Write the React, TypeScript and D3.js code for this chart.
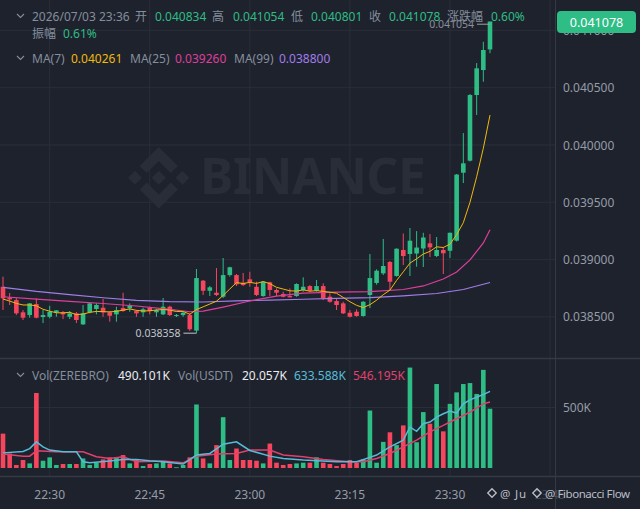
import React from "react";
import { scaleLinear, scaleTime, line as d3line } from "d3";

// 1-minute candles, 22:23 .. 23:36
const startTime = "2026-07-03T22:23:00";
const opens = [
  0.038763, 0.038667, 0.038647, 0.03854, 0.038516, 0.038612, 0.038499, 0.038501, 0.03854, 0.03854,
  0.038501, 0.038531, 0.038435, 0.03854, 0.038569, 0.03858, 0.03854, 0.038522, 0.038577, 0.038575,
  0.038551, 0.03854, 0.03858, 0.03854, 0.038522, 0.038589, 0.038508, 0.038516, 0.038516, 0.03838,
  0.038816, 0.038728, 0.038711, 0.038676, 0.038865, 0.038865, 0.038798, 0.038828, 0.038763, 0.038682,
  0.038802, 0.038735, 0.0387, 0.038682, 0.038682, 0.038735, 0.038769, 0.038728, 0.038769, 0.038676,
  0.038638, 0.038618, 0.038536, 0.038545, 0.038508, 0.038691, 0.038796, 0.03888, 0.038979, 0.038857,
  0.039084, 0.039049, 0.039053, 0.039097, 0.039142, 0.039031, 0.039084, 0.039077, 0.039165, 0.039758,
  0.039863, 0.040436, 0.040654, 0.040834,
];
const highs = [
  0.038851, 0.038708, 0.038665, 0.03856, 0.038621, 0.038662, 0.03856, 0.038597, 0.03856, 0.038551,
  0.038551, 0.038543, 0.038604, 0.038621, 0.038618, 0.038656, 0.038551, 0.038589, 0.038711, 0.038618,
  0.03856, 0.03858, 0.038589, 0.038569, 0.038665, 0.038597, 0.038525, 0.038543, 0.038531, 0.038918,
  0.038822, 0.038769, 0.038926, 0.039014, 0.038938, 0.038874, 0.038883, 0.038894, 0.038807, 0.038813,
  0.038807, 0.038749, 0.03872, 0.038749, 0.038793, 0.038845, 0.038778, 0.038822, 0.038793, 0.038706,
  0.038665, 0.038632, 0.03856, 0.038566, 0.038638, 0.039049, 0.038915, 0.03918, 0.038988, 0.039098,
  0.039228, 0.039276, 0.039249, 0.039234, 0.039223, 0.039197, 0.03911, 0.039236, 0.039747, 0.040104,
  0.040445, 0.040715, 0.040901, 0.041054,
];
const lows = [
  0.03856, 0.038604, 0.038516, 0.038473, 0.038493, 0.038487, 0.038446, 0.038487, 0.038501, 0.038481,
  0.038481, 0.038446, 0.038429, 0.038531, 0.038522, 0.038501, 0.038458, 0.038458, 0.038545, 0.038545,
  0.038501, 0.038501, 0.038522, 0.038501, 0.038516, 0.038508, 0.038499, 0.038501, 0.038377, 0.038358,
  0.038691, 0.038682, 0.038682, 0.038665, 0.038851, 0.038769, 0.038769, 0.038763, 0.038682, 0.038676,
  0.038682, 0.038682, 0.038671, 0.038669, 0.038676, 0.03872, 0.03872, 0.03872, 0.038647, 0.038624,
  0.03856, 0.038525, 0.038496, 0.038501, 0.038501, 0.038577, 0.038781, 0.038865, 0.038735, 0.038851,
  0.038953, 0.038857, 0.038938, 0.038935, 0.039022, 0.039022, 0.038874, 0.039014, 0.039158, 0.039668,
  0.039856, 0.040262, 0.040552, 0.040801,
];
const closes = [
  0.038662, 0.038653, 0.038531, 0.038493, 0.038618, 0.038493, 0.038516, 0.038545, 0.038557, 0.038522,
  0.038531, 0.038473, 0.038531, 0.038618, 0.038604, 0.03854, 0.03851, 0.03856, 0.038551, 0.038604,
  0.038531, 0.038566, 0.038551, 0.03856, 0.038589, 0.038516, 0.038516, 0.038536, 0.038392, 0.038839,
  0.038728, 0.038758, 0.038691, 0.038865, 0.038933, 0.038784, 0.038778, 0.038802, 0.038691, 0.038807,
  0.038735, 0.038711, 0.038676, 0.038671, 0.038787, 0.038763, 0.038728, 0.038769, 0.038662, 0.038632,
  0.038604, 0.038531, 0.038501, 0.038508, 0.038632, 0.038839, 0.038903, 0.038944, 0.038807, 0.039095,
  0.039031, 0.039165, 0.039105, 0.039193, 0.039107, 0.039084, 0.039055, 0.039234, 0.039742, 0.03984,
  0.040436, 0.040669, 0.040829, 0.041078,
];
// volume, thousands of ZEREBRO
const volumes = [
  284, 120, 25, 66, 38, 620, 60, 88, 25, 33,
  33, 33, 79, 25, 44, 71, 88, 88, 107, 38,
  66, 16, 33, 38, 52, 38, 6, 25, 88, 525,
  79, 38, 189, 420, 66, 161, 66, 66, 60, 38,
  202, 44, 25, 33, 38, 44, 44, 88, 44, 33,
  16, 33, 66, 44, 71, 475, 44, 216, 295, 189,
  352, 830, 213, 462, 366, 694, 303, 530, 625, 694,
  702, 612, 811, 490.101,
];

// MA(7) before the window fills
const ma7Lead = [0.038656, 0.038638, 0.038618, 0.038604, 0.038604, 0.038597];
// [candle index, value]
const ma25Points: [number, number][] = [
  [0, 0.038676], [5, 0.038655], [10, 0.038635], [15, 0.038617], [20, 0.038595], [25, 0.038565],
  [28, 0.038545], [30, 0.03855], [33, 0.038586], [37, 0.038639], [41, 0.038682], [45, 0.038708],
  [50, 0.038717], [55, 0.038721], [60, 0.038739], [63, 0.03877], [66, 0.038831], [68, 0.038892],
  [70, 0.038997], [72, 0.039145], [73, 0.03926],
];
const ma99Points: [number, number][] = [
  [0, 0.038758], [5, 0.038723], [10, 0.038695], [15, 0.038667], [20, 0.038645], [25, 0.038633],
  [30, 0.03863], [35, 0.038639], [40, 0.038647], [45, 0.038654], [50, 0.038661], [55, 0.038669],
  [60, 0.038684], [65, 0.038704], [69, 0.038739], [73, 0.0388],
];
const volMa5Points: [number, number][] = [
  [0, 125], [3, 137], [4, 160], [5, 216], [6, 175], [7, 148], [9, 134], [11, 134], [12, 52], [13, 43],
  [16, 57], [18, 71], [20, 71], [22, 60], [24, 52], [27, 33], [29, 107], [31, 120], [33, 197], [35, 216],
  [37, 145], [40, 98], [42, 79], [45, 66], [50, 52], [53, 52], [55, 88], [56, 107], [58, 175], [60, 230],
  [61, 339], [62, 303], [63, 366], [64, 380], [65, 420], [66, 448], [67, 470], [68, 453], [69, 530],
  [70, 563], [72, 607], [73, 633.588],
];
const volMa10Points: [number, number][] = [
  [0, 115], [3, 98], [4, 98], [5, 142], [8, 134], [12, 134], [14, 93], [16, 79], [18, 93], [20, 52],
  [24, 57], [27, 43], [29, 98], [32, 115], [35, 120], [37, 148], [40, 148], [42, 107], [45, 93], [48, 71],
  [52, 52], [54, 52], [56, 79], [58, 120], [60, 175], [62, 230], [64, 298], [66, 352], [68, 407],
  [70, 462], [72, 530], [73, 546.195],
];

const priceTicks = [0.0385, 0.039, 0.0395, 0.04, 0.0405, 0.041];
const volTicks = [500];
const timeLabels = ["22:30", "22:45", "23:00", "23:15", "23:30", "23:45"];

const BG = "#1e222d";
const GRID = "#2a2e39";
const SEP = "#353944";
const GRAY = "#848e9c";
const AXIS = "#959ca6";
const GREEN = "#2ebd85";
const RED = "#f6465d";
const FONT = "'Noto Sans', 'Noto Sans CJK SC', sans-serif";

const PANE_R = 555;
const MAIN_B = 358;
const VOL_B = 476;

function Chevron({ x, y }: { x: number; y: number }) {
  return <path d={`M${x},${y} l3.5,3.5 l3.5,-3.5`} fill="none" stroke={GRAY} strokeWidth={1.1} />;
}

export default function App() {
  const t0 = new Date(startTime).getTime();
  const dates = closes.map((_, i) => new Date(t0 + i * 60000));
  const x = scaleTime().domain([dates[0], dates[dates.length - 1]]).range([3, 490]);
  const y = scaleLinear().domain([0.0385, 0.041]).range([316.9, 30.4]);
  const yv = scaleLinear().domain([0, 500]).range([468, 407.5]);
  const bw = 4.6;

  const ma7 = closes.map((_, i) =>
    i < 6 ? ma7Lead[i] : closes.slice(i - 6, i + 1).reduce((a, b) => a + b, 0) / 7
  );

  const priceLine = d3line<[number, number]>()
    .x((d) => x(dates[d[0]]))
    .y((d) => y(d[1]));
  const volLine = d3line<[number, number]>()
    .x((d) => x(dates[d[0]]))
    .y((d) => yv(d[1]));

  const ma7Path = priceLine(ma7.map((v, i) => [i, v] as [number, number])) || "";

  const timeX = (lab: string) => x(new Date(`2026-07-03T${lab}:00`));

  const last = closes.length - 1;
  const hiIdx = highs.indexOf(Math.max(...highs));
  const loIdx = lows.indexOf(Math.min(...lows));

  return (
    <div style={{ position: "fixed", inset: 0, background: BG }}>
      <svg width={640} height={509} style={{ display: "block", fontFamily: FONT }}>
        <rect width={640} height={509} fill={BG} />
        <defs>
          <clipPath id="mainClip">
            <rect x={0} y={0} width={PANE_R} height={MAIN_B} />
          </clipPath>
          <clipPath id="volClip">
            <rect x={0} y={MAIN_B} width={PANE_R} height={VOL_B - MAIN_B} />
          </clipPath>
        </defs>

        {/* grid */}
        {timeLabels.map((t) => (
          <line key={t} x1={timeX(t)} x2={timeX(t)} y1={0} y2={VOL_B} stroke={GRID} />
        ))}
        {priceTicks.map((p) => (
          <line key={p} x1={0} x2={PANE_R} y1={y(p)} y2={y(p)} stroke={GRID} />
        ))}
        {volTicks.map((v) => (
          <line key={v} x1={0} x2={PANE_R} y1={yv(v)} y2={yv(v)} stroke={GRID} />
        ))}

        {/* separators */}
        <line x1={PANE_R + 0.5} x2={PANE_R + 0.5} y1={0} y2={509} stroke={SEP} />
        <line x1={0} x2={640} y1={MAIN_B + 0.5} y2={MAIN_B + 0.5} stroke={SEP} strokeWidth={1.5} />
        <line x1={0} x2={640} y1={VOL_B + 0.5} y2={VOL_B + 0.5} stroke={SEP} strokeWidth={1.5} />

        {/* watermark */}
        <g fill="#292d38">
          <g transform="translate(128,147) scale(0.49)">
            <path d="M38.171 53.203 L62.759 28.616 L87.36 53.216 L101.667 38.909 L62.759 0 L23.864 38.896 Z" />
            <path d="M0 62.759 L14.307 48.452 L28.614 62.759 L14.307 77.066 Z" />
            <path d="M38.171 72.316 L62.759 96.903 L87.36 72.303 L101.674 86.602 L62.759 125.519 L23.864 86.623 Z" />
            <path d="M96.903 62.759 L111.21 48.452 L125.517 62.759 L111.21 77.066 Z" />
            <path d="M77.271 62.745 L62.759 48.233 L48.254 62.738 L62.759 77.25 Z" />
          </g>
          <text x={200} y={194} fontSize={50} fontWeight={700} letterSpacing={2} textLength={228}>
            BINANCE
          </text>
        </g>

        {/* volume */}
        <g clipPath="url(#volClip)">
          {volumes.map((v, i) => {
            const up = closes[i] >= opens[i];
            return (
              <rect
                key={i}
                x={x(dates[i]) - bw / 2}
                y={yv(v)}
                width={bw}
                height={Math.max(0.8, yv(0) - yv(v))}
                fill={up ? GREEN : RED}
              />
            );
          })}
          <path d={volLine(volMa10Points) || ""} fill="none" stroke="#e0416d" strokeWidth={1.5} />
          <path d={volLine(volMa5Points) || ""} fill="none" stroke="#55bdd8" strokeWidth={1.5} />
        </g>

        {/* candles */}
        <g clipPath="url(#mainClip)">
          {closes.map((c, i) => {
            const o = opens[i];
            const up = c >= o;
            const col = up ? GREEN : RED;
            const cx = x(dates[i]);
            const top = y(Math.max(o, c));
            const bot = y(Math.min(o, c));
            return (
              <g key={i}>
                <line x1={cx} x2={cx} y1={y(highs[i])} y2={y(lows[i])} stroke={col} strokeWidth={1} />
                <rect x={cx - bw / 2} y={top} width={bw} height={Math.max(1, bot - top)} fill={col} />
              </g>
            );
          })}
          <path d={priceLine(ma99Points) || ""} fill="none" stroke="#a07de9" strokeWidth={1.2} />
          <path d={priceLine(ma25Points) || ""} fill="none" stroke="#dd3f9b" strokeWidth={1.2} />
          <path d={ma7Path} fill="none" stroke="#f0b90b" strokeWidth={1} />
        </g>

        {/* high / low markers */}
        <line x1={x(dates[hiIdx]) - 13} x2={x(dates[hiIdx])} y1={y(highs[hiIdx])} y2={y(highs[hiIdx])} stroke="#9aa0a8" />
        <text x={x(dates[hiIdx]) - 16} y={y(highs[hiIdx])} fontSize={10.5} fill="#8a9099" textAnchor="end" dominantBaseline="central">
          {highs[hiIdx].toFixed(6)}
        </text>
        <line x1={x(dates[loIdx]) - 13} x2={x(dates[loIdx])} y1={y(lows[loIdx])} y2={y(lows[loIdx])} stroke="#c2c6cc" />
        <text x={x(dates[loIdx]) - 16} y={y(lows[loIdx])} fontSize={10.5} fill="#c2c6cc" textAnchor="end" dominantBaseline="central">
          {lows[loIdx].toFixed(6)}
        </text>

        {/* right axis */}
        {priceTicks.map((p) => (
          <text key={p} x={563} y={y(p)} fontSize={12} fill={AXIS} dominantBaseline="central">
            {p.toFixed(6)}
          </text>
        ))}
        {volTicks.map((v) => (
          <text key={v} x={563} y={yv(v)} fontSize={12} fill={AXIS} dominantBaseline="central">
            {v}K
          </text>
        ))}
        <rect x={557} y={11} width={79} height={22} rx={4} fill={GREEN} />
        <text x={596.5} y={22.5} fontSize={12.5} fill="#ffffff" textAnchor="middle" dominantBaseline="central">
          {closes[last].toFixed(6)}
        </text>

        {/* time axis */}
        {timeLabels.map((t) => (
          <text key={t} x={timeX(t)} y={494} fontSize={12} fill={AXIS} textAnchor="middle" dominantBaseline="central" opacity={t === "23:45" ? 0.3 : 1}>
            {t}
          </text>
        ))}
        <g fontSize={11.5} fill="#b9bec6" dominantBaseline="central">
          <rect x={489} y={490} width={6} height={6} transform="rotate(45 492 493)" fill="none" stroke="#b9bec6" strokeWidth={1.3} />
          <text x={500} y={493} textLength={26}>@ Ju</text>
          <rect x={534} y={490} width={6} height={6} transform="rotate(45 537 493)" fill="none" stroke="#b9bec6" strokeWidth={1.3} />
          <text x={545} y={493} textLength={85}>@ Fibonacci Flow</text>
        </g>

        {/* header legend */}
        <Chevron x={17} y={14} />
        <g fontSize={12} dominantBaseline="central">
          <text x={32} y={16} fill={GRAY}>2026/07/03 23:36</text>
          <text x={135} y={16} fill={GRAY}>开</text>
          <text x={155} y={16} fill={GREEN}>{opens[last].toFixed(6)}</text>
          <text x={212} y={16} fill={GRAY}>高</text>
          <text x={233} y={16} fill={GREEN}>{highs[last].toFixed(6)}</text>
          <text x={291} y={16} fill={GRAY}>低</text>
          <text x={311} y={16} fill={GREEN}>{lows[last].toFixed(6)}</text>
          <text x={369} y={16} fill={GRAY}>收</text>
          <text x={389} y={16} fill={GREEN}>{closes[last].toFixed(6)}</text>
          <text x={447} y={16} fill={GRAY}>涨跌幅</text>
          <text x={491} y={16} fill={GREEN}>0.60%</text>
          <text x={32} y={33} fill={GRAY}>振幅</text>
          <text x={63} y={33} fill={GREEN}>0.61%</text>
        </g>

        <Chevron x={17} y={56} />
        <g fontSize={12} dominantBaseline="central">
          <text x={32} y={58} fill={GRAY}>MA(7)</text>
          <text x={71} y={58} fill="#f0b90b">{ma7[last].toFixed(6)}</text>
          <text x={130} y={58} fill={GRAY}>MA(25)</text>
          <text x={175} y={58} fill="#dd3f9b">{ma25Points[ma25Points.length - 1][1].toFixed(6)}</text>
          <text x={234} y={58} fill={GRAY}>MA(99)</text>
          <text x={279} y={58} fill="#a07de9">{ma99Points[ma99Points.length - 1][1].toFixed(6)}</text>
        </g>

        <Chevron x={17} y={373} />
        <g fontSize={12} dominantBaseline="central">
          <text x={32} y={375} fill={GRAY}>Vol(ZEREBRO)</text>
          <text x={118} y={375} fill="#eaecef">{volumes[last].toFixed(3)}K</text>
          <text x={178} y={375} fill={GRAY}>Vol(USDT)</text>
          <text x={242} y={375} fill="#eaecef">20.057K</text>
          <text x={294} y={375} fill="#55bdd8">{volMa5Points[volMa5Points.length - 1][1].toFixed(3)}K</text>
          <text x={353} y={375} fill="#e0416d">{volMa10Points[volMa10Points.length - 1][1].toFixed(3)}K</text>
        </g>
      </svg>
    </div>
  );
}
